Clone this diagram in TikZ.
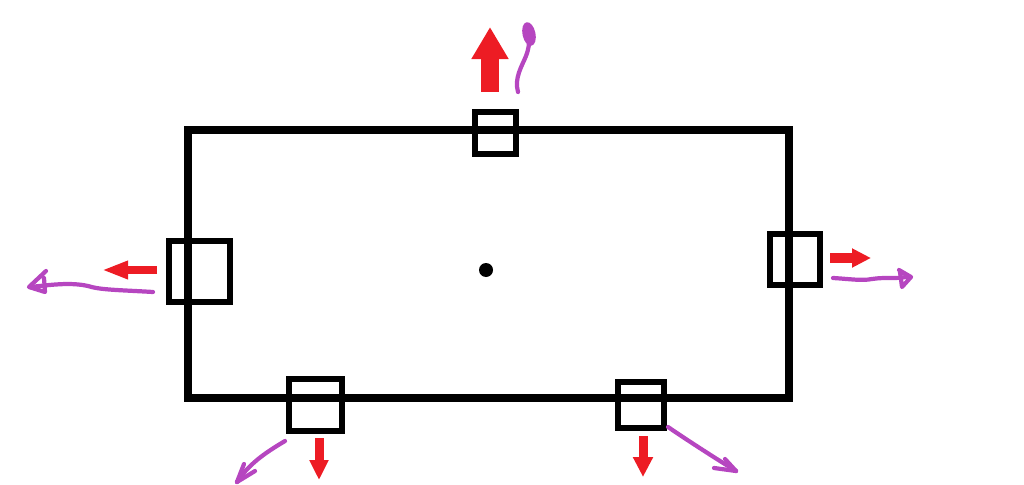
\documentclass[tikz,border=0pt]{standalone}
\usepackage{tikz}
\definecolor{PaintRed}   {RGB}{237, 28,  36}
\definecolor{PenPurple}  {RGB}{182, 70, 192}
\usetikzlibrary{arrows.meta}

\begin{document}
\begin{tikzpicture}[
  x=0.025cm, y=-0.025cm,
  frame/.style={draw, line width=5pt, line join=miter},
  port/.style={
    draw, line width=4.2pt, inner sep=0pt
  },
  push/.style n args={3}{
    PaintRed, line width=#1,
    -{Triangle[length=#2, width=#3]}
  },
  sketch/.style={
    PenPurple, line width=3pt,
    line cap=round, line join=round
  }
]
\useasboundingbox (0,0) rectangle (1024,485);

% outline and centre
\draw[frame] (188,130) rectangle (789,398);
\fill (486,270) circle[radius=7];

% ports on the outline
\node[port, minimum width=29pt, minimum height=30pt]
  (top) at (495.5,133) {};
\node[port, minimum width=43pt, minimum height=43pt]
  (left) at (199.5,271.5) {};
\node[port, minimum width=35.6pt, minimum height=36.3pt]
  (right) at (795,259.5) {};
\node[port, minimum width=37.7pt, minimum height=37pt]
  (botl) at (315.5,405) {};
\node[port, minimum width=32.7pt, minimum height=32.7pt]
  (botr) at (641,405) {};

% red arrow ends
\coordinate (t0) at (490,92);   \coordinate (t1) at (490,27);
\coordinate (l0) at (157,270);  \coordinate (l1) at (102,270);
\coordinate (r0) at (830,258);  \coordinate (r1) at (871,258);
\coordinate (bl0) at (319,438); \coordinate (bl1) at (319,480);
\coordinate (br0) at (643,436); \coordinate (br1) at (643,477);

\draw[push={12.8pt}{22.8pt}{24.9pt}] (t0) -- (t1);
\draw[push={5.7pt}{18.5pt}{12pt}] (l0) -- (l1);
\draw[push={7.1pt}{13.5pt}{12.8pt}] (r0) -- (r1);
\draw[push={6.4pt}{14.2pt}{12.8pt}] (bl0) -- (bl1);
\draw[push={6.4pt}{14.2pt}{13.5pt}] (br0) -- (br1);

% purple strokes
\draw[sketch] (518,92) .. controls (514,78) and (522,66) .. (526,56)
  .. controls (529,48) and (529,44) .. (529,40);
\fill[PenPurple, rotate around={12:(529,34)}]
  (529,34) ellipse[x radius=6.5, y radius=12];

\draw[sketch] (153,292) .. controls (120,290) and (100,290) .. (88,286)
  .. controls (70,282) and (50,285) .. (30,287);
\draw[sketch] (46,271) -- (29,287) -- (45,292) -- (44,278);

\draw[sketch] (833,278) .. controls (850,279) and (862,281) .. (872,279)
  .. controls (885,277) and (895,279) .. (906,277);
\draw[sketch] (899,270) -- (911,277) -- (902,287) -- (900,272);

\draw[sketch] (285,441) .. controls (270,450) and (250,462) .. (237,482);
\draw[sketch] (237,482) -- (244,464);
\draw[sketch] (237,482) -- (255,471);

\draw[sketch] (668,427) .. controls (690,442) and (715,458) .. (736,471);
\draw[sketch] (736,471) -- (725,459);
\draw[sketch] (736,471) -- (714,468);

\end{tikzpicture}
\end{document}
